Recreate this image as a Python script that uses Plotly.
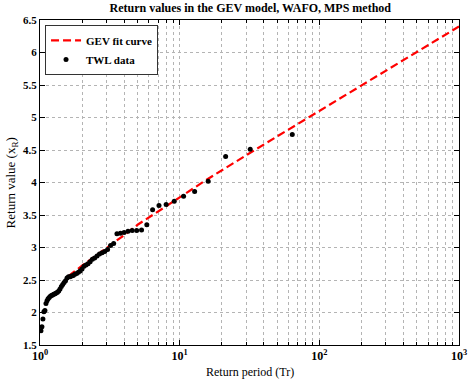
import plotly.graph_objects as go

# Observed TWL data (return period = 64 / rank, value)
ranks = list(range(1, 64))
twl_tr = [64.0 / r for r in ranks]
twl_values = [
    4.74, 4.51, 4.40, 4.02, 3.86, 3.79, 3.71, 3.66, 3.645, 3.58,
    3.35, 3.27, 3.26, 3.26, 3.25, 3.23, 3.22, 3.21, 3.06, 3.03,
    2.97, 2.94, 2.92, 2.90, 2.87, 2.84, 2.82, 2.78, 2.75, 2.73,
    2.71, 2.67, 2.64, 2.62, 2.60, 2.59, 2.57, 2.56, 2.55, 2.55,
    2.53, 2.49, 2.46, 2.43, 2.40, 2.36, 2.33, 2.31, 2.30, 2.29,
    2.28, 2.27, 2.26, 2.25, 2.23, 2.21, 2.18, 2.14, 2.03, 2.01,
    1.90, 1.78, 1.72,
]

# GEV fit curve
gev_tr = [1.6, 1.8, 2, 2.5, 3, 4, 5, 7, 10, 15, 20, 30, 50, 70, 100, 200, 300, 500, 1000]
gev_values = [2.56, 2.65, 2.72, 2.87, 2.99, 3.19, 3.35, 3.55, 3.77, 4.02, 4.19, 4.42,
              4.71, 4.90, 5.10, 5.49, 5.72, 6.01, 6.40]

x_tickvals = [1, 10, 100, 1000]
x_ticktext = ["10<sup>0</sup>", "10<sup>1</sup>", "10<sup>2</sup>", "10<sup>3</sup>"]

SERIF = "Liberation Serif, Times New Roman, serif"
GRIDC = "#b4b4b4"

fig = go.Figure()
fig.add_trace(go.Scatter(
    x=gev_tr, y=gev_values, mode="lines", name="GEV fit curve",
    line=dict(color="#ff0000", width=2.2, dash="8px,4px"),
))
fig.add_trace(go.Scatter(
    x=twl_tr, y=twl_values, mode="markers", name="TWL data",
    marker=dict(color="black", size=5),
))

fig.update_layout(
    width=474, height=383,
    margin=dict(l=40, r=15, t=20, b=38),
    paper_bgcolor="white", plot_bgcolor="white",
    title=dict(text="Return values in the GEV model, WAFO, MPS method",
               x=0.528, xanchor="center", y=0.99, yanchor="top",
               font=dict(family=SERIF, size=12, color="black", weight="bold")),
    showlegend=True,
    legend=dict(x=0.012, y=0.985, xanchor="left", yanchor="top",
                bgcolor="white", bordercolor="#333333", borderwidth=1,
                font=dict(family=SERIF, size=11, color="black", weight="bold"),
                itemwidth=30, tracegroupgap=0),
    font=dict(family=SERIF, color="black"),
    annotations=[
        dict(text="Return period (Tr)", xref="paper", yref="paper",
             x=0.5, y=-0.083, xanchor="center", yanchor="middle", showarrow=False,
             font=dict(family=SERIF, size=12, color="black")),
        dict(text="Return value (x<sub>R</sub>)", xref="paper", yref="paper",
             x=-0.067, y=0.5, xanchor="center", yanchor="middle", showarrow=False,
             textangle=-90, font=dict(family=SERIF, size=13, color="black")),
    ],
)

fig.update_xaxes(
    type="log", range=[0, 3], automargin=False,
    tickvals=x_tickvals, ticktext=x_ticktext,
    tickfont=dict(family=SERIF, size=12, color="black", weight="bold"),
    showline=True, linecolor="black", linewidth=1, mirror="ticks",
    ticks="inside", ticklen=5, tickcolor="black",
    showgrid=True, gridcolor=GRIDC, griddash="dot", gridwidth=1,
    minor=dict(ticks="inside", ticklen=3, tickcolor="black", showgrid=True,
               gridcolor=GRIDC, griddash="dot", gridwidth=1, dtick="D1"),
    zeroline=False,
)
fig.update_yaxes(
    range=[1.5, 6.5], dtick=0.5, automargin=False,
    tickfont=dict(family=SERIF, size=11, color="black", weight="bold"),
    showline=True, linecolor="black", linewidth=1, mirror="ticks",
    ticks="inside", ticklen=5, tickcolor="black",
    showgrid=True, gridcolor=GRIDC, griddash="dot", gridwidth=1,
    zeroline=False,
)

fig.write_html("out.html", config={"displayModeBar": False},
               post_script="document.body.style.margin='0';")
